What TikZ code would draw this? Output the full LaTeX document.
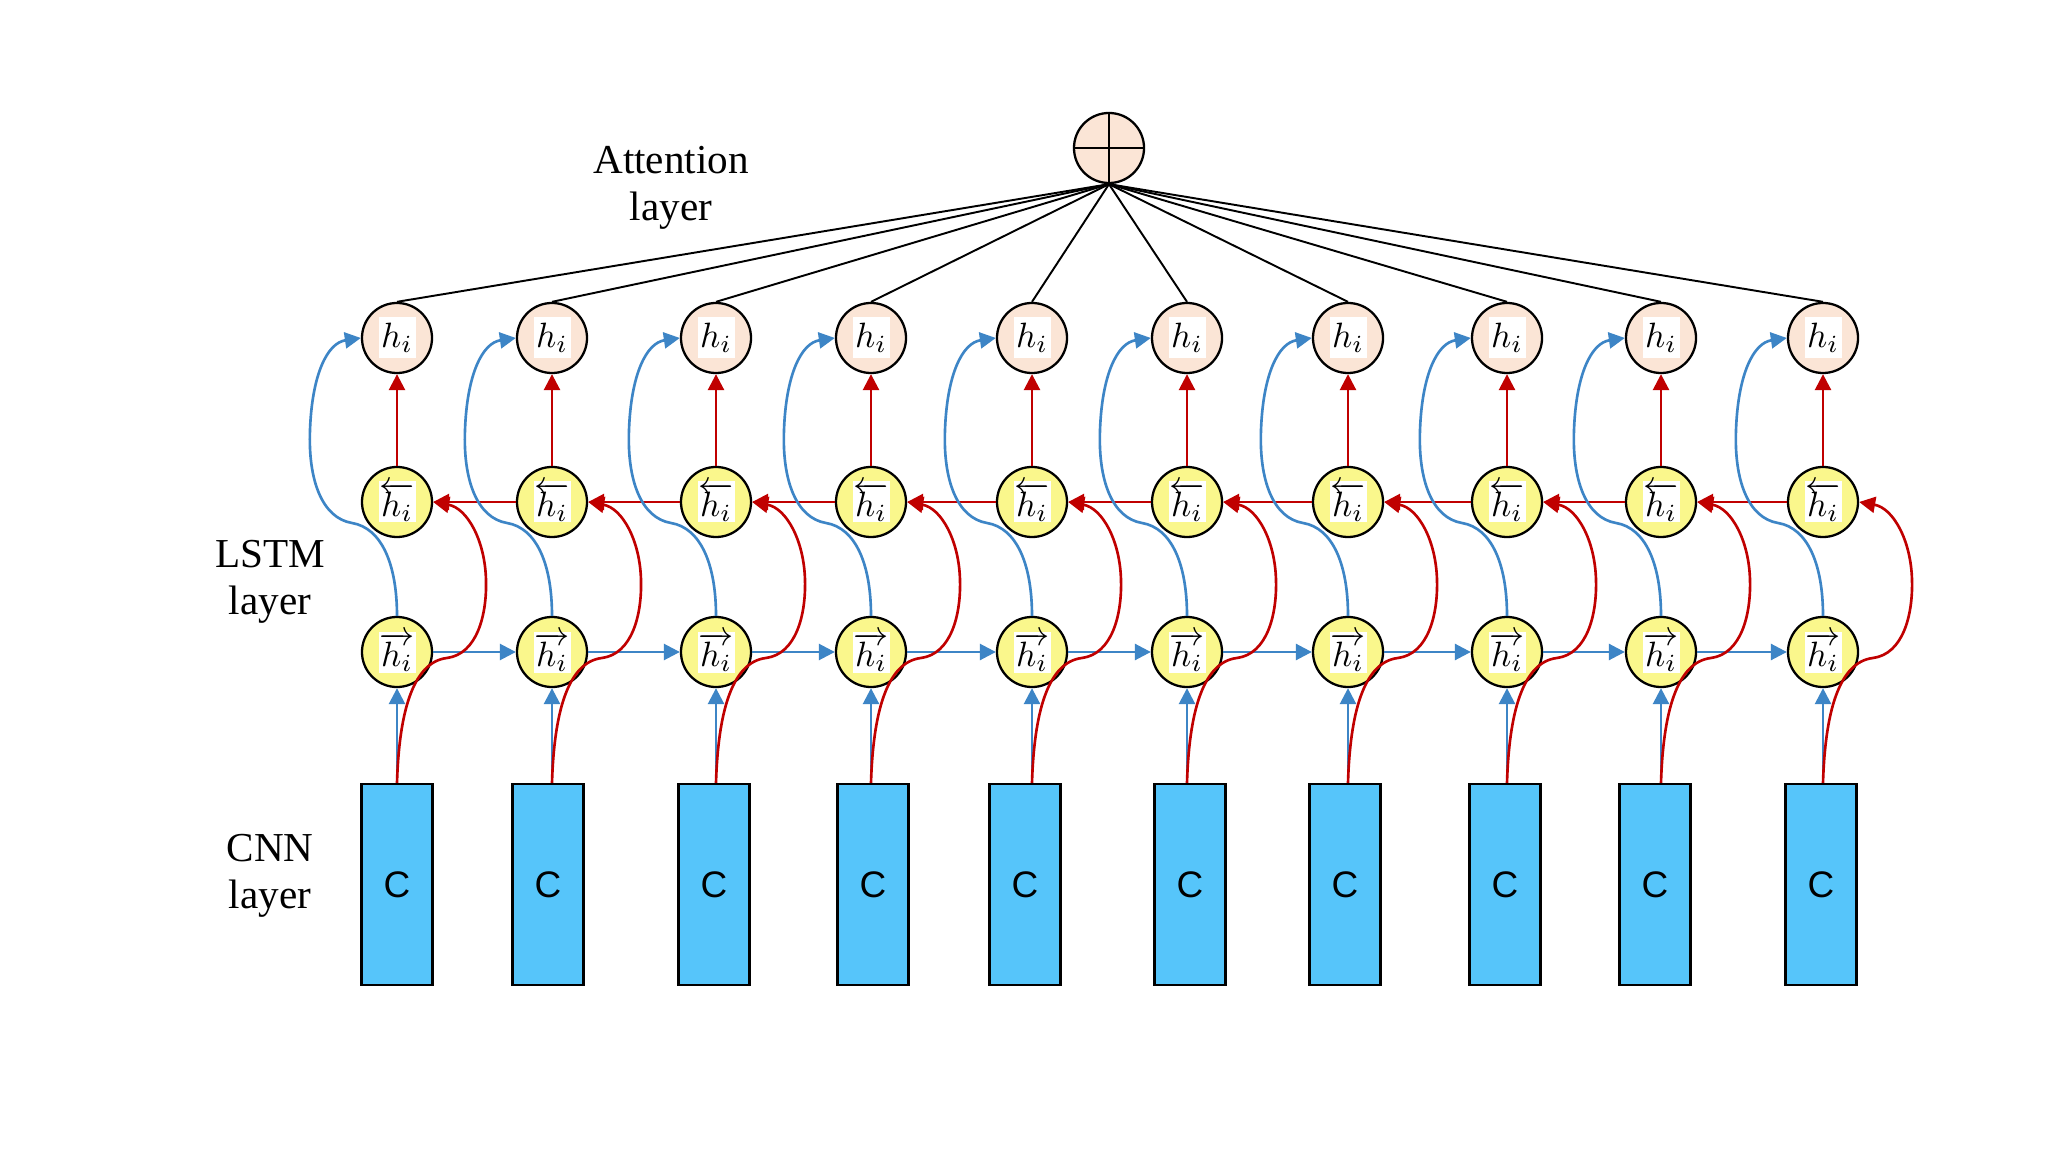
\documentclass[tikz,border=0pt]{standalone}
\usepackage{fontspec}
\setmainfont{Liberation Serif}
\setsansfont{Liberation Sans}
\usetikzlibrary{arrows.meta}
\definecolor{peach}{HTML}{FBE5D6}
\definecolor{lyellow}{HTML}{FAF78C}
\definecolor{cblue}{HTML}{56C5FA}
\definecolor{ablue}{HTML}{3D85C6}
\definecolor{ared}{HTML}{C00000}
\begin{document}
\begin{tikzpicture}[x=0.01cm,y=-0.01cm,
 whitebox/.style={path picture={\fill[white] ([shift={(-18.5,-20.5)}]path picture bounding box.center) rectangle ([shift={(18.5,20.5)}]path picture bounding box.center);}},
 hcirc/.style={circle,draw=black,line width=0.65pt,fill=peach,minimum size=0.7cm,inner sep=0pt,font=\fontsize{10}{12}\selectfont},
 lcirc/.style={circle,draw=black,line width=0.65pt,fill=lyellow,minimum size=0.7cm,inner sep=0pt,font=\fontsize{10}{12}\selectfont},
 cbox/.style={draw=black,line width=0.6pt,fill=cblue,minimum width=0.71cm,minimum height=2.01cm,inner sep=0pt,font=\sffamily\fontsize{10.5}{12}\selectfont},
 layertxt/.style={align=center,font=\fontsize{11.7}{13.4}\selectfont},
 bluearr/.style={draw=ablue,line width=0.75pt,-{Triangle[length=0.16cm,width=0.16cm]}},
 redarr/.style={draw=ared,line width=0.75pt,-{Triangle[length=0.16cm,width=0.16cm]}},
 attline/.style={draw=black,line width=0.55pt}]
\useasboundingbox (0,0) rectangle (2048,1152);
\fill[white] (0,0) rectangle (2048,1152);

\node[hcirc] (att) at (1109,148) {};
\draw[line width=0.65pt] (att.north) -- (att.south) (att.west) -- (att.east);

\foreach \i/\c/\r in {1/397/397, 2/552/548, 3/716/714, 4/871/873, 5/1032/1025, 6/1187/1190, 7/1348/1345, 8/1507/1505, 9/1661/1655, 10/1823/1821}{
  \node[hcirc,whitebox] (h\i) at (\c,338) {$h_i$};
  \node[lcirc,whitebox] (b\i) at (\c,502) {$\overleftarrow{h_i}$};
  \node[lcirc,whitebox] (f\i) at (\c,652) {$\overrightarrow{h_i}$};
  \node[cbox] (c\i) at (\r,884.5) {C};
}

\foreach \i/\j in {1/2,2/3,3/4,4/5,5/6,6/7,7/8,8/9,9/10}{
  \draw[bluearr] (f\i.east) -- (f\j.west);
  \draw[redarr] (b\j.west) -- (b\i.east);
}

\foreach \i/\c in {1/397, 2/552, 3/716, 4/871, 5/1032, 6/1187, 7/1348, 8/1507, 9/1661, 10/1823}{
  \draw[attline] (att.south) -- (h\i.north);
  \draw[redarr] (b\i.north) -- (h\i.south);
  \draw[bluearr] (c\i.north -| f\i) -- (f\i.south);
  \draw[bluearr] (f\i.north) .. controls (\c,565) and (\c-15,528) .. (\c-45,523)
      .. controls (\c-75,518) and (\c-89,480) .. (\c-87,430)
      .. controls (\c-85,375) and (\c-70,343) .. (h\i.west);
  \draw[redarr] (c\i.north -| f\i) .. controls (\c+2,715) and (\c+15,662) .. (\c+50,658)
      .. controls (\c+80,654) and (\c+90,615) .. (\c+89,580)
      .. controls (\c+88,540) and (\c+70,508) .. (b\i.east);
}

\node[layertxt] (attlab) at (671,188) {Attention\\layer};
\node[layertxt] (lstmlab) at (270,582) {LSTM\\layer};
\node[layertxt] (cnnlab) at (270,876) {CNN\\layer};
\end{tikzpicture}
\end{document}
